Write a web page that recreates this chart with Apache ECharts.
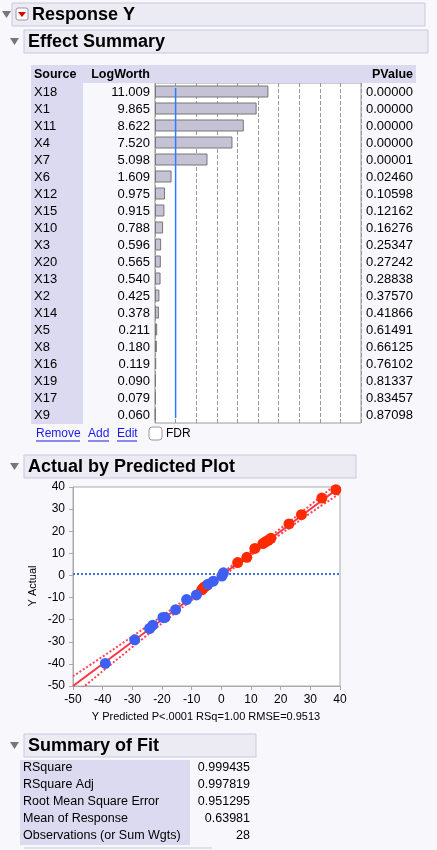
<!DOCTYPE html>
<html><head><meta charset="utf-8">
<script src="https://cdn.jsdelivr.net/npm/echarts@6/dist/echarts.min.js"></script>
<style>html,body{margin:0;padding:0;background:#f8f8fc}#c{width:437px;height:850px}</style>
</head><body><div id="c"></div>
<script>
const sources = ['X18','X1','X11','X4','X7','X6','X12','X15','X10','X3','X20','X13','X2','X14','X5','X8','X16','X19','X17','X9'];
const logWorth = [11.009,9.865,8.622,7.520,5.098,1.609,0.975,0.915,0.788,0.596,0.565,0.540,0.425,0.378,0.211,0.180,0.119,0.090,0.079,0.060];
const pValues = ['0.00000','0.00000','0.00000','0.00000','0.00001','0.02460','0.10598','0.12162','0.16276','0.25347','0.27242','0.28838','0.37570','0.41866','0.61491','0.66125','0.76102','0.81337','0.83457','0.87098'];
const bluePts = [[-39.1,-39.8],[-29.2,-29.1],[-24.2,-24],[-23.1,-22.5],[-19.7,-19],[-19,-19],[-15.4,-15.5],[-11.7,-10.9],[-8.4,-8.8],[-4.5,-4],[-2.7,-2.6],[0.2,-0.3],[0.7,1.2]];
const redPts = [[-6.6,-6.5],[-6.2,-5.9],[-5.7,-5.2],[-5.0,-4.6],[5.5,5.8],[8.6,8.2],[11.3,12.2],[14,14.4],[14.9,15.2],[15.8,15.9],[16.7,16.8],[22.8,23.3],[27,27.5],[33.9,35],[38.6,38.8]];
const fitLine = [[-50,-50],[40,40]];
const upperBand = [[-50,-45.6],[-30,-27.6],[-10,-8.8],[0,0.9],[10,10.9],[20,21.3],[30,31.8],[40,42.9]];
const lowerBand = [[-50,-54.4],[-30,-32.4],[-10,-11.2],[0,-0.9],[10,9.1],[20,18.7],[30,28.2],[40,37.1]];
const meanY = 0.63981;
const refLogWorth = 2;
const fitLabels = ['RSquare','RSquare Adj','Root Mean Square Error','Mean of Response','Observations (or Sum Wgts)'];
const fitValues = ['0.999435','0.997819','0.951295','0.63981','28'];

const F = 'Liberation Sans, Arial, sans-serif';
const g = [];
function header(x,y,w,t,tri){
  g.push({type:'rect',shape:{x:x,y:y,width:w,height:23},style:{fill:'#ecebf4',stroke:'#c9c7dd',lineWidth:1}});
  g.push({type:'text',style:{x:x+(t==='Response Y'?20:4),y:y+12,text:t,font:'bold 18px '+F,fill:'#000',verticalAlign:'middle'}});
  g.push({type:'polygon',shape:{points:[[tri,y+8],[tri+9,y+8],[tri+4.5,y+15]]},style:{fill:'#777'}});
}
header(12,3,413,'Response Y',2);
g.push({type:'rect',shape:{x:16,y:8,width:12,height:12,r:2},style:{fill:'#fff',stroke:'#999'}});
g.push({type:'polygon',shape:{points:[[18,12],[26,12],[22,17]]},style:{fill:'#d00'}});
header(24,30,404,'Effect Summary',10);
header(24,455,332,'Actual by Predicted Plot',10);
header(24,734,232,'Summary of Fit',10);
g.push({type:'line',shape:{x1:24,y1:848,x2:212,y2:848},style:{stroke:'#c9c7dd',lineWidth:1}});
g.push({type:'rect',shape:{x:31,y:65,width:385,height:18},style:{fill:'#dcdaf0'}});
g.push({type:'rect',shape:{x:31,y:83,width:52,height:341},style:{fill:'#dcdaf0'}});
g.push({type:'text',style:{x:34,y:75,text:'Source',font:'bold 12.5px '+F,verticalAlign:'middle'}});
g.push({type:'text',style:{x:150,y:75,text:'LogWorth',font:'bold 12.5px '+F,verticalAlign:'middle',align:'right'}});
g.push({type:'text',style:{x:413,y:75,text:'PValue',font:'bold 12.5px '+F,verticalAlign:'middle',align:'right'}});
sources.forEach((s,i)=>{
  const y=92+17*i;
  g.push({type:'text',style:{x:34,y:y,text:s,font:'13px '+F,verticalAlign:'middle'}});
  g.push({type:'text',style:{x:150,y:y,text:logWorth[i].toFixed(3),font:'13px '+F,verticalAlign:'middle',align:'right'}});
  g.push({type:'text',style:{x:413,y:y,text:pValues[i],font:'13px '+F,verticalAlign:'middle',align:'right'}});
});
[['Remove',36],['Add',88],['Edit',117]].forEach(([t,x])=>{
  g.push({type:'text',style:{x:x,y:434,text:t,font:'12px '+F,fill:'#1a1ae6',verticalAlign:'middle'}});
});
g.push({type:'line',shape:{x1:36,y1:441,x2:80,y2:441},style:{stroke:'#1a1ae6'}});
g.push({type:'line',shape:{x1:88,y1:441,x2:109,y2:441},style:{stroke:'#1a1ae6'}});
g.push({type:'line',shape:{x1:117,y1:441,x2:137,y2:441},style:{stroke:'#1a1ae6'}});
g.push({type:'rect',shape:{x:149,y:427,width:13,height:13,r:3},style:{fill:'#fff',stroke:'#999'}});
g.push({type:'text',style:{x:166,y:434,text:'FDR',font:'12px '+F,verticalAlign:'middle'}});
g.push({type:'rect',shape:{x:20,y:760,width:170,height:85},style:{fill:'#dcdaf0'}});
fitLabels.forEach((t,i)=>{
  const y=768+17*i;
  g.push({type:'text',style:{x:23,y:y,text:t,font:'12.5px '+F,verticalAlign:'middle'}});
  g.push({type:'text',style:{x:250,y:y,text:fitValues[i],font:'12.5px '+F,verticalAlign:'middle',align:'right'}});
});
g.push({type:'text',style:{x:206,y:717,text:'Y Predicted P<.0001 RSq=1.00 RMSE=0.9513',font:'11px '+F,align:'center',verticalAlign:'middle'}});
g.push({type:'text',rotation:Math.PI/2,x:33,y:586,style:{x:0,y:0,text:'Y Actual',font:'11px '+F,align:'center',verticalAlign:'middle'}});

const chart = echarts.init(document.getElementById('c'));
chart.setOption({
  animation:false,
  graphic:g,
  grid:[{left:155,top:83,width:206,height:340,show:true,borderColor:'#999',backgroundColor:'#fff'},
        {left:73,top:487,width:267,height:199,show:true,borderColor:'#aaa',backgroundColor:'#fff'},
        {left:155,top:83,width:206,height:340,show:false}],
  xAxis:[{gridIndex:0,type:'value',min:0,max:20,interval:2,axisLabel:{show:false},axisLine:{show:false},axisTick:{show:false},
          splitLine:{lineStyle:{type:'dashed',color:'#999'}}},
         {gridIndex:1,type:'value',min:-50,max:40,interval:10,axisLine:{onZero:false,lineStyle:{color:'#aaa'}},axisTick:{length:4,lineStyle:{color:'#aaa'}},
          axisLabel:{color:'#000',fontSize:12,fontFamily:F},splitLine:{show:false}},
         {gridIndex:2,type:'value',min:0,max:20,show:false}],
  yAxis:[{gridIndex:0,type:'category',data:sources,inverse:true,axisLabel:{show:false},axisLine:{show:false},axisTick:{show:false}},
         {gridIndex:1,type:'value',min:-50,max:40,interval:10,axisLine:{show:true,onZero:false,lineStyle:{color:'#aaa'}},axisTick:{show:true,length:4,lineStyle:{color:'#aaa'}},
          axisLabel:{color:'#000',fontSize:12,fontFamily:F},splitLine:{show:false}},
         {gridIndex:2,type:'value',min:0,max:1,show:false}],
  series:[
    {type:'bar',xAxisIndex:0,yAxisIndex:0,data:logWorth,barWidth:12,itemStyle:{color:'#c4c2d4',borderColor:'#777',borderWidth:1}},
    {type:'line',xAxisIndex:2,yAxisIndex:2,data:[[refLogWorth,0.985],[refLogWorth,0.015]],showSymbol:false,lineStyle:{color:'#2f7bff',width:1.5,opacity:1},z:20},
    {type:'line',xAxisIndex:1,yAxisIndex:1,data:upperBand,smooth:true,showSymbol:false,lineStyle:{color:'#ff4455',type:[2,2],width:2}},
    {type:'line',xAxisIndex:1,yAxisIndex:1,data:lowerBand,smooth:true,showSymbol:false,lineStyle:{color:'#ff4455',type:[2,2],width:2}},
    {type:'line',xAxisIndex:1,yAxisIndex:1,data:fitLine,showSymbol:false,lineStyle:{color:'#ff3344',width:2}},
    {type:'line',xAxisIndex:1,yAxisIndex:1,data:[[-50,meanY],[40,meanY]],showSymbol:false,lineStyle:{color:'#3a6fe8',type:[2,2],width:2}},
    {type:'scatter',xAxisIndex:1,yAxisIndex:1,data:redPts,symbolSize:11,z:10,itemStyle:{color:'#ff2a00',opacity:1}},
    {type:'scatter',xAxisIndex:1,yAxisIndex:1,data:bluePts,symbolSize:11,z:10,itemStyle:{color:'#3f5ff2',opacity:1}}
  ]
});
</script></body></html>
